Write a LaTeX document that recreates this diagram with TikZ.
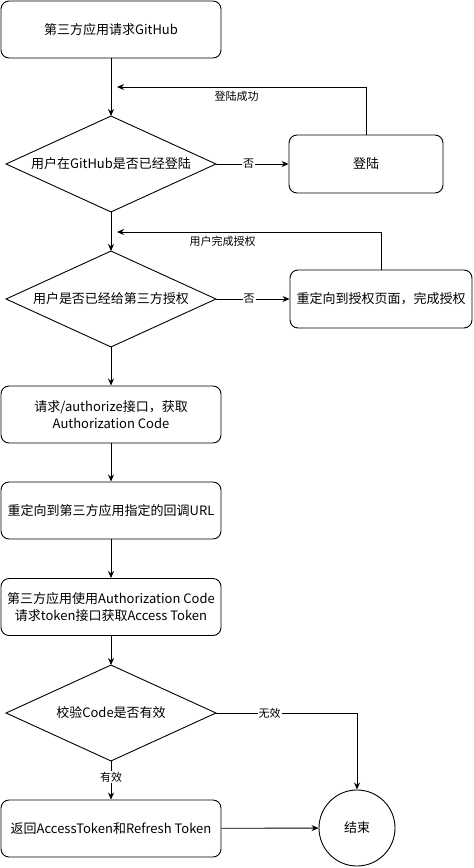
\documentclass[tikz,border=0pt]{standalone}
\usepackage{fontspec}
\setmainfont{Noto Sans CJK SC}
\usetikzlibrary{calc,positioning,arrows.meta}

\begin{document}
\begin{tikzpicture}[x=1pt, y=-1pt, ->, line width=0.9pt,
    >={Stealth[length=7pt,width=6pt]},
    every node/.style={font=\fontsize{13}{17}\selectfont, align=center},
    procbox/.style={draw, rounded corners=8pt, minimum width=220pt, minimum height=57pt, inner sep=2pt},
    decision/.style={minimum width=209pt, minimum height=95pt, inner sep=0pt},
    elabel/.style={font=\fontsize{11}{13}\selectfont, fill=white, inner sep=1pt}]
    \useasboundingbox (0,0) rectangle (474,868);

    % main column
    \node[procbox] (start) at (111,29.5) {第三方应用请求GitHub};
    \node[decision] (q1) at (111,164) {用户在GitHub是否已经登陆};
    \node[decision] (q2) at (111,299) {用户是否已经给第三方授权};
    \node[procbox] (req) at (111,414.5) {请求/authorize接口，获取\\Authorization Code};
    \node[procbox] (cb) at (111,510.5) {重定向到第三方应用指定的回调URL};
    \node[procbox] (tok) at (111,607) {第三方应用使用Authorization Code\\请求token接口获取Access Token};
    \node[decision] (q3) at (111,713) {校验Code是否有效};
    \node[procbox] (ret) at (111,828.5) {返回AccessToken和Refresh Token};

    % side nodes
    \node[procbox, minimum width=154pt, minimum height=58pt] (login) at (366,164) {登陆};
    \node[procbox, minimum width=182pt, minimum height=58pt] (redir) at (381,299) {重定向到授权页面，完成授权};
    \node[draw, circle, minimum size=76pt] (finish) at (357,828) {结束};

    % diamond outlines
    \foreach \d in {q1,q2,q3}
        \draw[-] (\d.north) -- (\d.east) -- (\d.south) -- (\d.west) -- cycle;

    % return points on the main line
    \coordinate (m1) at (117,87);
    \coordinate (m2) at (117,232);

    % connections
    \draw (start) -- (q1);
    \draw (q1) -- (q2);
    \draw (q2) -- (req);
    \draw (req) -- (cb);
    \draw (cb) -- (tok);
    \draw (tok) -- (q3);
    \draw (q1) -- node[elabel, pos=0.45] {否} (login);
    \draw (q2) -- node[elabel, pos=0.45] {否} (redir);
    \draw (login.north) |- node[elabel, below=3pt, pos=0.76] {登陆成功} (m1);
    \draw (redir.north) |- node[elabel, below=3pt, pos=0.8] {用户完成授权} (m2);
    \draw (q3.south) -- node[elabel, pos=0.42] {有效} (ret.north);
    \draw (q3.east) -| node[elabel, pos=0.19] {无效} (finish.north);
    \draw (ret) -- (finish);
\end{tikzpicture}
\end{document}
